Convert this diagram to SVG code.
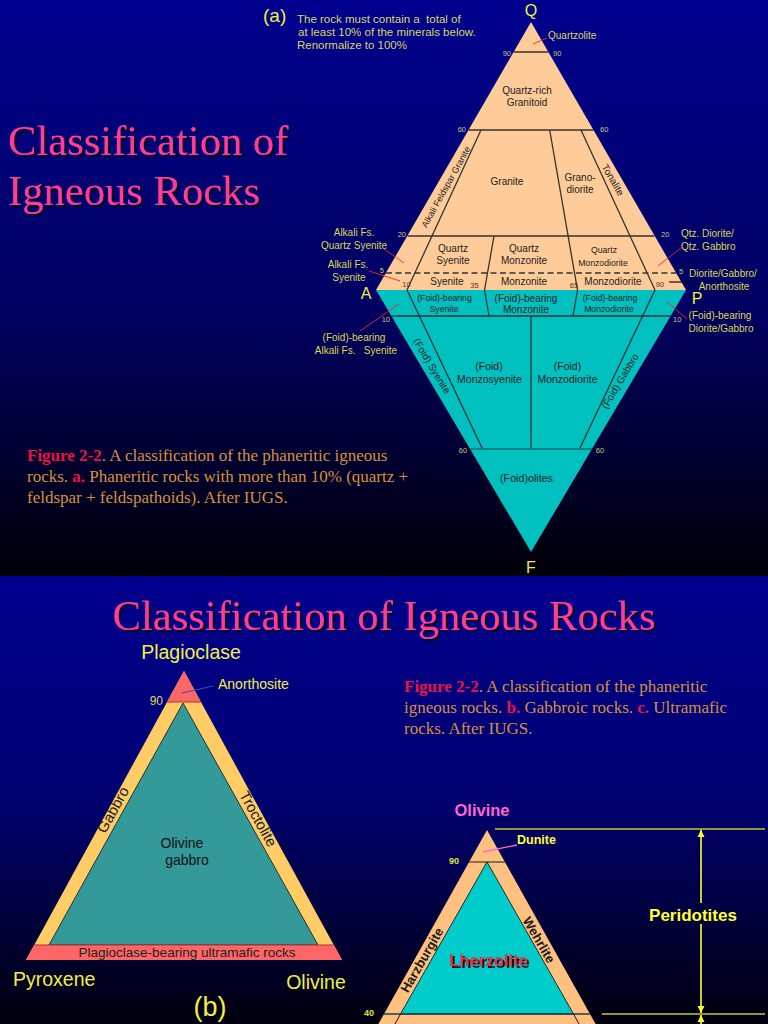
<svg xmlns="http://www.w3.org/2000/svg" width="768" height="1024" viewBox="0 0 768 1024">
<defs>
<linearGradient id="bg1" x1="0" y1="0" x2="0" y2="1">
<stop offset="0" stop-color="#00008e"/><stop offset="0.55" stop-color="#000060"/><stop offset="1" stop-color="#000008"/>
</linearGradient>
<linearGradient id="bg2" x1="0" y1="0" x2="0" y2="1">
<stop offset="0" stop-color="#00008e"/><stop offset="0.5" stop-color="#000070"/><stop offset="1" stop-color="#00000e"/>
</linearGradient>
<filter id="sh" x="-5%" y="-20%" width="110%" height="140%">
<feDropShadow dx="2" dy="2" stdDeviation="0.6" flood-color="#000010" flood-opacity="0.9"/>
</filter>
<marker id="ah" viewBox="0 0 10 10" refX="10" refY="5" markerWidth="7" markerHeight="9" orient="auto-start-reverse" markerUnits="userSpaceOnUse">
<path d="M0,0 L10,5 L0,10 z" fill="#ffff33"/>
</marker>
<style>
.s{font-family:'Liberation Sans',Arial,sans-serif}
.lbl{font-family:'Liberation Sans',Arial,sans-serif;font-size:10px;fill:#222;text-anchor:middle}
.sm{font-size:8.7px}
.f9{font-size:9px}
.f105{font-size:10.5px}
.f107{font-size:10.7px}
.yl{font-family:'Liberation Sans',Arial,sans-serif;font-size:10px;fill:#dada50;text-anchor:middle}
.st{text-anchor:start}
.num{font-family:'Liberation Sans',Arial,sans-serif;font-size:7.5px;fill:#c8c878}
.dnum{font-family:'Liberation Sans',Arial,sans-serif;font-size:7.5px;fill:#553322;text-anchor:middle}
.vx{font-family:'Liberation Sans',Arial,sans-serif;font-size:16px;fill:#f0f040;text-anchor:middle}
.ln{stroke:#333;stroke-width:1.3;fill:none}
.red{stroke:#ff2020;stroke-width:0.9;fill:none}
.title{font-family:'Liberation Serif','Times New Roman',serif;font-size:42.6px;fill:#ff3c96;filter:url(#sh)}
.cap{font-family:'Liberation Serif','Times New Roman',serif;font-size:17px;fill:#d8903c}
.cr{fill:#ee1144;font-weight:bold}
.big{font-family:'Liberation Sans',Arial,sans-serif;font-size:19.5px;fill:#f0f040}
.bl{font-family:'Liberation Sans',Arial,sans-serif;font-weight:bold;fill:#1a1a1a;text-anchor:middle}
</style>
</defs>

<rect x="0" y="0" width="768" height="576" fill="url(#bg1)"/>
<rect x="0" y="576" width="768" height="448" fill="url(#bg2)"/>

<!-- ===== Part (a) ===== -->
<g id="title-a">
<text class="title" x="8" y="155">Classification of</text>
<text class="title" x="8" y="205">Igneous Rocks</text>
</g>

<g id="note-a">
<text class="s" x="263" y="22" font-size="19" fill="#f0f040">(a)</text>
<text class="s" font-size="11.5" fill="#d8d860" xml:space="preserve"><tspan x="297" y="23">The rock must contain a  total of</tspan><tspan x="298" y="36">at least 10% of the minerals below.</tspan><tspan x="297" y="49">Renormalize to 100%</tspan></text>
</g>

<g id="diamond-fill">
<polygon points="531,22 376,290 686,290" fill="#ffcc99"/>
<polygon points="376,290 686,290 531,552" fill="#00c0c0"/>
</g>

<g id="diamond-lines">
<line class="ln" x1="513.7" y1="52" x2="548.3" y2="52"/>
<line class="ln" x1="468.6" y1="130" x2="593.4" y2="130"/>
<line class="ln" x1="407.5" y1="236" x2="654.5" y2="236"/>
<line class="ln" x1="386" y1="273" x2="676" y2="273" stroke-dasharray="6,3.5"/>
<line class="ln" x1="481" y1="130" x2="407" y2="290"/>
<line class="ln" x1="494" y1="236" x2="484.5" y2="290"/>
<line class="ln" x1="549.7" y1="130" x2="577.5" y2="290"/>
<line class="ln" x1="581" y1="130" x2="655" y2="290"/>
<line class="ln" x1="391.4" y1="316" x2="670.6" y2="316"/>
<line class="ln" x1="407" y1="290" x2="482.5" y2="449"/>
<line class="ln" x1="655" y1="290" x2="579.5" y2="449"/>
<line class="ln" x1="484.5" y1="290" x2="489" y2="316"/>
<line class="ln" x1="577.5" y1="290" x2="573" y2="316"/>
<line class="ln" x1="531" y1="316" x2="531" y2="449"/>
<line x1="470" y1="449" x2="592" y2="449" stroke="#007070" stroke-width="1.3"/>
</g>

<g id="vertex-labels">
<text class="vx" x="531" y="16">Q</text>
<text class="vx" x="366" y="299">A</text>
<text class="vx" x="697" y="304">P</text>
<text class="vx" x="531" y="573">F</text>
</g>

<g id="ticks">
<text class="num" x="511" y="55.5" text-anchor="end">90</text>
<text class="num" x="553" y="55.5">90</text>
<text class="num" x="466" y="132" text-anchor="end">60</text>
<text class="num" x="600" y="132">60</text>
<text class="num" x="406" y="237" text-anchor="end">20</text>
<text class="num" x="661" y="237">20</text>
<text class="num" x="384" y="273" text-anchor="end">5</text>
<text class="num" x="679" y="274">5</text>
<text class="num" x="390" y="322" text-anchor="end">10</text>
<text class="num" x="673" y="322">10</text>
<text class="num" x="463" y="453" text-anchor="middle">60</text>
<text class="num" x="600" y="453" text-anchor="middle">60</text>
<text class="dnum" x="406.5" y="287">10</text>
<text class="dnum" x="474.5" y="288">35</text>
<text class="dnum" x="574" y="288">65</text>
<text class="dnum" x="660" y="287">90</text>
</g>

<g id="quartz-rich"><text class="lbl" x="527" y="94">Quartz-rich</text><text class="lbl" x="527" y="106">Granitoid</text></g>
<g id="granite"><text class="lbl" x="507" y="185">Granite</text></g>
<g id="granodiorite"><text class="lbl" x="580" y="181">Grano-</text><text class="lbl" x="580" y="193">diorite</text></g>
<g id="tonalite"><text class="lbl" transform="translate(613,180) rotate(60)" y="3.5">Tonalite</text></g>
<g id="alkali-feldspar-granite"><text class="lbl f9" transform="translate(446,187) rotate(-61)" y="3">Alkali Feldspar Granite</text></g>
<g id="quartz-syenite"><text class="lbl" x="453" y="252">Quartz</text><text class="lbl" x="453" y="264">Syenite</text></g>
<g id="quartz-monzonite"><text class="lbl" x="524" y="252">Quartz</text><text class="lbl" x="524" y="264">Monzonite</text></g>
<g id="quartz-monzodiorite"><text class="lbl sm" x="604" y="253">Quartz</text><text class="lbl sm" x="603" y="266">Monzodiorite</text></g>
<g id="syenite"><text class="lbl" x="447" y="285">Syenite</text></g>
<g id="monzonite"><text class="lbl" x="524" y="285">Monzonite</text></g>
<g id="monzodiorite"><text class="lbl" x="613" y="285">Monzodiorite</text></g>
<g id="foid-bearing-syenite"><text class="lbl sm" x="444.5" y="301">(Foid)-bearing</text><text class="lbl sm" x="444" y="312">Syenite</text></g>
<g id="foid-bearing-monzonite"><text class="lbl" x="526" y="302">(Foid)-bearing</text><text class="lbl" x="526" y="313">Monzonite</text></g>
<g id="foid-bearing-monzodiorite"><text class="lbl sm" x="610" y="301">(Foid)-bearing</text><text class="lbl sm" x="609" y="312">Monzodiorite</text></g>
<g id="foid-syenite"><text class="lbl" transform="translate(432,366) rotate(59)" y="3.5">(Foid) Syenite</text></g>
<g id="foid-monzosyenite"><text class="lbl f105" x="489" y="370">(Foid)</text><text class="lbl f105" x="489.5" y="383">Monzosyenite</text></g>
<g id="foid-monzodiorite"><text class="lbl f105" x="567.5" y="370">(Foid)</text><text class="lbl f105" x="567.5" y="383">Monzodiorite</text></g>
<g id="foid-gabbro"><text class="lbl" transform="translate(620,381) rotate(-59)" y="3.5">(Foid) Gabbro</text></g>
<g id="foidolites"><text class="lbl f107" x="526.5" y="482">(Foid)olites</text></g>

<g id="quartzolite"><text class="yl st" x="548" y="39">Quartzolite</text></g>
<g id="alkali-fs-quartz-syenite"><text class="yl" x="354" y="236">Alkali Fs.</text><text class="yl" x="354" y="249">Quartz Syenite</text></g>
<g id="alkali-fs-syenite"><text class="yl" x="348" y="268">Alkali Fs.</text><text class="yl" x="349" y="281">Syenite</text></g>
<g id="qtz-diorite"><text class="yl st" x="681" y="237">Qtz. Diorite/</text><text class="yl st" x="681" y="250">Qtz. Gabbro</text></g>
<g id="diorite-gabbro-anorthosite"><text class="yl" x="723" y="277">Diorite/Gabbro/</text><text class="yl" x="724" y="290">Anorthosite</text></g>
<g id="foid-bearing-alkali-fs-syenite"><text class="yl" x="354" y="341">(Foid)-bearing</text><text class="yl" x="356" y="354" xml:space="preserve">Alkali Fs.   Syenite</text></g>
<g id="foid-bearing-diorite-gabbro"><text class="yl" x="720" y="319">(Foid)-bearing</text><text class="yl" x="721" y="332">Diorite/Gabbro</text></g>

<g id="caption-a">
<text class="cap"><tspan x="27" y="461"><tspan class="cr">Figure 2-2</tspan>. A classification of the phaneritic igneous</tspan><tspan x="27" y="482">rocks. <tspan class="cr">a.</tspan> Phaneritic rocks with more than 10% (quartz +</tspan><tspan x="27" y="503">feldspar + feldspathoids). After IUGS.</tspan></text>
</g>

<!-- ===== Part (b) ===== -->
<g id="title-b"><text class="title" x="384" y="630" text-anchor="middle">Classification of Igneous Rocks</text></g>

<g id="triangle-b">
<polygon points="184,671 26,960 342,960" fill="#ffcc66"/>
<polygon points="183,703 49,945 318,945" fill="#339999" stroke="#223333" stroke-width="1"/>
<polygon points="184,671 167,702 201,702" fill="#ff6666"/>
<line x1="167" y1="702" x2="201" y2="702" stroke="#aa3333" stroke-width="1.2"/>
<polygon points="34,945 334,945 342,960 26,960" fill="#ff6666"/>
<line x1="34" y1="945" x2="334" y2="945" stroke="#aa3333" stroke-width="1"/>
</g>

<g id="plagioclase"><text class="big" x="191" y="659" text-anchor="middle">Plagioclase</text></g>
<g id="pyroxene"><text class="big" x="13" y="986">Pyroxene</text></g>
<g id="olivine-b"><text class="big" x="316" y="989" text-anchor="middle">Olivine</text></g>
<g id="label-b"><text class="s" x="210" y="1016" font-size="27" fill="#f0f040" text-anchor="middle">(b)</text></g>
<g id="anorthosite"><text class="s" x="218" y="689" font-size="14" fill="#f0f040">Anorthosite</text></g>
<g id="tick-90-b"><text class="s" x="163" y="705" font-size="12" fill="#d8d860" text-anchor="end">90</text></g>
<g id="gabbro"><text class="s" font-size="15" fill="#1a1a1a" text-anchor="middle" transform="translate(113,810) rotate(-61)" y="5">Gabbro</text></g>
<g id="troctolite"><text class="s" font-size="15" fill="#1a1a1a" text-anchor="middle" transform="translate(258,819) rotate(61)" y="5">Troctolite</text></g>
<g id="olivine-gabbro"><text class="s" font-size="14" fill="#111" text-anchor="middle" x="182" y="848">Olivine</text><text class="s" font-size="14" fill="#111" text-anchor="middle" x="187" y="865">gabbro</text></g>
<g id="plag-ultramafic"><text class="s" font-size="13.5" fill="#222" text-anchor="middle" x="187" y="957">Plagioclase-bearing ultramafic rocks</text></g>

<g id="caption-b">
<text class="cap"><tspan x="404" y="692"><tspan class="cr">Figure 2-2</tspan>. A classification of the phaneritic</tspan><tspan x="404" y="713">igneous rocks. <tspan class="cr">b.</tspan> Gabbroic rocks. <tspan class="cr">c.</tspan> Ultramafic</tspan><tspan x="404" y="734">rocks. After IUGS.</tspan></text>
</g>

<!-- ===== Part (c) ===== -->
<g id="triangle-c">
<polygon points="487,830 378.4,1024 595.6,1024" fill="#ffc080"/>
<polygon points="487,862 400.5,1014 573.5,1014" fill="#00cccc" stroke="#1a2a2a" stroke-width="1"/>
<line x1="469" y1="862" x2="505" y2="862" stroke="#1a1a1a" stroke-width="1.2"/>
<line x1="384" y1="1014" x2="590" y2="1014" stroke="#1a4040" stroke-width="1.4"/>
<line x1="400.5" y1="1014" x2="395" y2="1024" stroke="#1a1a1a" stroke-width="1"/>
<line x1="573.5" y1="1014" x2="579" y2="1024" stroke="#1a1a1a" stroke-width="1"/>
</g>
<g id="olivine-c"><text class="s" font-weight="bold" font-size="16.5" fill="#ff66cc" x="482" y="816" text-anchor="middle">Olivine</text></g>
<g id="dunite"><text class="s" font-weight="bold" font-size="12.5" fill="#ffff33" x="517" y="844">Dunite</text></g>
<g id="tick-90-c"><text class="s" font-weight="bold" font-size="9" fill="#e0e040" x="454" y="864" text-anchor="middle">90</text></g>
<g id="tick-40-c"><text class="s" font-weight="bold" font-size="9" fill="#e0e040" x="369" y="1016" text-anchor="middle">40</text></g>
<g id="harzburgite"><text class="bl" font-size="13" transform="translate(422,960) rotate(-60)" y="4.5">Harzburgite</text></g>
<g id="wehrlite"><text class="bl" font-size="13" transform="translate(539,940) rotate(60)" y="4.5">Wehrlite</text></g>
<g id="lherzolite"><text class="s" font-weight="bold" font-size="16.7" fill="#e83040" x="488.5" y="966" text-anchor="middle" style="filter:url(#sh)">Lherzolite</text></g>
<g id="peridotites"><text class="s" font-weight="bold" font-size="17" fill="#ffff33" x="693" y="921" text-anchor="middle">Peridotites</text></g>

<!-- ===== Connectors ===== -->
<g id="connectors">
<line class="red" x1="533" y1="44" x2="547" y2="38"/>
<line class="red" x1="384" y1="249" x2="404" y2="263"/>
<line class="red" x1="369" y1="271" x2="400" y2="281"/>
<line class="red" x1="682" y1="247" x2="658" y2="266"/>
<line x1="669" y1="282" x2="692" y2="282" stroke="#111" stroke-width="1.2"/>
<line class="red" x1="360" y1="331" x2="399" y2="304"/>
<line class="red" x1="667" y1="302" x2="687" y2="319"/>
<line x1="182" y1="693" x2="213" y2="686" stroke="#3355aa" stroke-width="1"/>
<line x1="483" y1="852" x2="517" y2="845" stroke="#ff66cc" stroke-width="1.3"/>
<line x1="495" y1="829" x2="765" y2="829" stroke="#c8c832" stroke-width="1.3"/>
<line x1="602" y1="1014" x2="765" y2="1014" stroke="#c8c832" stroke-width="1.3"/>
<line x1="701" y1="903" x2="701" y2="830" stroke="#ffff33" stroke-width="1.6" marker-end="url(#ah)"/>
<line x1="701" y1="924" x2="701" y2="1013" stroke="#ffff33" stroke-width="1.6" marker-end="url(#ah)"/>
<line x1="701" y1="1024" x2="701" y2="1015" stroke="#ffff33" stroke-width="1.6" marker-end="url(#ah)"/>
</g>
</svg>
